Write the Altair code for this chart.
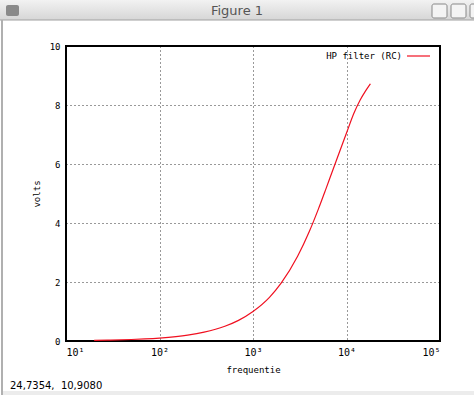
import altair as alt
import pandas as pd

freq = [20, 30, 50, 70, 100, 150, 200, 300, 500, 700, 1000, 1500, 2000,
        3000, 4000, 5000, 6000, 7000, 8000, 10000, 12000, 14000, 16000, 18000]
volts = [0.02, 0.03, 0.05, 0.07, 0.10, 0.15, 0.20, 0.30, 0.50, 0.70, 1.00,
         1.48, 1.96, 2.87, 3.71, 4.47, 5.14, 5.72, 6.22, 7.05, 7.72, 8.17,
         8.48, 8.72]
x_ticks = [10, 100, 1000, 10000, 100000]
y_ticks = [0, 2, 4, 6, 8, 10]
series_name = "HP filter (RC)"
window_title = "Figure 1"
status_text = "24,7354,\u00a0 10,9080"

df = pd.DataFrame({"f": freq, "v": volts})
one = pd.DataFrame({"k": [0]})

W, H = 374, 295
PL, PT = 66, 46
FONT = "DejaVu Sans Mono"

sup = ("datum.value == 10 ? '10\u00b9' : datum.value == 100 ? '10\u00b2' : "
       "datum.value == 1000 ? '10\u00b3' : datum.value == 10000 ? '10\u2074' : '10\u2075'")

line = alt.Chart(df).mark_line(color="#f01020", strokeWidth=1.2, clip=True,
                               interpolate="monotone").encode(
    x=alt.X("f:Q",
            scale=alt.Scale(type="log", domain=[10, 100000], nice=False),
            axis=alt.Axis(values=x_ticks, labelExpr=sup, title="frequentie",
                          grid=True, gridDash=[1, 3], gridColor="black",
                          gridOpacity=0.8, domain=False, ticks=False,
                          labelPadding=6, titlePadding=8, labelFontSize=10,
                          labelFont=FONT, titleFont=FONT, titleFontSize=9,
                          titleFontWeight="normal", labelColor="black")),
    y=alt.Y("v:Q",
            scale=alt.Scale(domain=[0, 10], nice=False),
            axis=alt.Axis(values=y_ticks, title="volts", grid=True,
                          gridDash=[1, 3], gridColor="black", gridOpacity=0.8,
                          domain=False, ticks=False, labelPadding=6,
                          titlePadding=8, labelFontSize=9, labelFont=FONT,
                          titleFont=FONT, titleFontSize=9,
                          titleFontWeight="normal", labelColor="black")),
)

legend_text = alt.Chart(one).mark_text(
    text=series_name, align="right", baseline="middle", font=FONT, fontSize=9,
    color="black").encode(x=alt.value(402 - PL), y=alt.value(56 - PT))
legend_line = alt.Chart(one).mark_rule(color="#f01020", strokeWidth=1.2).encode(
    x=alt.value(407 - PL), x2=alt.value(430 - PL), y=alt.value(56 - PT))

bar = alt.Chart(one).mark_rect(
    color=alt.LinearGradient(gradient="linear", x1=0, x2=0, y1=0, y2=1,
                             stops=[alt.GradientStop(color="#f2f2f2", offset=0),
                                    alt.GradientStop(color="#d6d6d6", offset=1)])
).encode(x=alt.value(-PL), x2=alt.value(474 - PL), y=alt.value(-PT),
         y2=alt.value(20 - PT))
bar_line = alt.Chart(one).mark_rule(color="#a0a0a0").encode(
    x=alt.value(-PL), x2=alt.value(474 - PL), y=alt.value(20 - PT))
title_txt = alt.Chart(one).mark_text(
    text=window_title, font="DejaVu Sans", fontSize=13, fontWeight="normal",
    color="#555555", align="center", baseline="middle").encode(
    x=alt.value(237 - PL), y=alt.value(11 - PT))
icon = alt.Chart(one).mark_rect(color="#8a8a8a", cornerRadius=2).encode(
    x=alt.value(6 - PL), x2=alt.value(19 - PL), y=alt.value(5 - PT),
    y2=alt.value(16 - PT))
left_edge = alt.Chart(one).mark_rule(color="#b0b0b0", strokeWidth=2).encode(
    x=alt.value(2 - PL), y=alt.value(20 - PT), y2=alt.value(395 - PT))
status_bg = alt.Chart(one).mark_rect(color="#ececec").encode(
    x=alt.value(-PL + 3), x2=alt.value(474 - PL), y=alt.value(391 - PT),
    y2=alt.value(395 - PT))
status = alt.Chart(one).mark_text(
    text=status_text, font="DejaVu Sans", fontSize=10, color="black",
    align="left", baseline="middle").encode(
    x=alt.value(10 - PL), y=alt.value(386 - PT))

btns = []
for bx in [432, 451, 470]:
    btns.append(alt.Chart(one).mark_rect(
        fill="#f4f4f4", stroke="#888888", strokeWidth=1, cornerRadius=2).encode(
        x=alt.value(bx - PL), x2=alt.value(bx + 15 - PL),
        y=alt.value(4 - PT), y2=alt.value(18 - PT)))

chart = alt.layer(bar, bar_line, title_txt, icon, *btns, left_edge, status_bg,
                  status, line, legend_text, legend_line).properties(
    width=W, height=H,
    autosize=alt.AutoSizeParams(type="none"),
    padding={"left": PL, "top": PT, "right": 474 - PL - W, "bottom": 395 - PT - H},
    background="white",
).configure_view(stroke="black", strokeWidth=2)

chart.save("out.html", embed_options={"renderer": "svg", "actions": False})
